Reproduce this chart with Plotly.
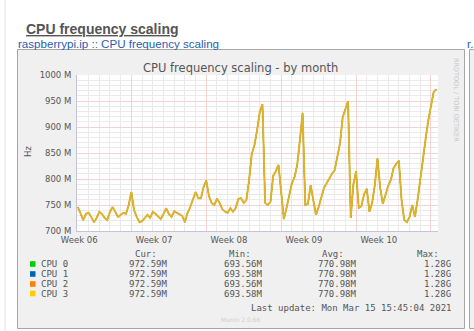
import plotly.graph_objects as go
import pandas as pd

# ---------------- data ----------------
cpu_names = ["CPU 0", "CPU 1", "CPU 2", "CPU 3"]
cpu_colors = ["#00CC00", "#0066B3", "#FF8000", "#FFCC00"]

# CPU frequency (MHz), one reading every 6 hours starting 2021-02-10 00:00
freq_mhz = [
    746, 735, 721, 733, 735, 727, 717, 725, 737, 733,
    725, 721, 737, 746, 735, 727, 731, 735, 733, 750,
    775, 740, 727, 717, 719, 725, 731, 725, 737, 733,
    727, 723, 733, 744, 733, 727, 738, 735, 733, 729,
    717, 735, 746, 762, 775, 763, 763, 785, 797, 767,
    754, 750, 762, 754, 742, 737, 735, 744, 737, 744,
    762, 763, 754, 760, 798, 848, 865, 894, 929, 944,
    754, 750, 756, 806, 815, 827, 779, 723, 744, 769,
    792, 804, 827, 875, 927, 750, 752, 788, 760, 731,
    746, 767, 783, 792, 802, 810, 817, 840, 869, 919,
    935, 950, 725, 790, 815, 744, 748, 771, 781, 737,
    754, 788, 840, 783, 752, 769, 787, 798, 821, 829,
    835, 760, 721, 717, 727, 750, 727, 760, 802, 842,
    877, 913, 942, 967, 972.6,
]
sample_start = "2021-02-10 00:00"
sample_step = "6h"
x_range = ["2021-02-09 22:00", "2021-03-15 15:45"]

week_starts = ["2021-02-15", "2021-02-22", "2021-03-01", "2021-03-08", "2021-03-15"]
week_label_pos = ["2021-02-10 03:00", "2021-02-17 03:00", "2021-02-24 03:00",
                  "2021-03-03 03:00", "2021-03-10 03:00"]
week_labels = ["Week 06", "Week 07", "Week 08", "Week 09", "Week 10"]

y_ticks = [700, 750, 800, 850, 900, 950, 1000]
y_tick_labels = ["700 M", "750 M", "800 M", "850 M", "900 M", "950 M", "1000 M"]

stat_headers = ["Cur:", "Min:", "Avg:", "Max:"]
stat_cur = ["972.59M", "972.59M", "972.59M", "972.59M"]
stat_min = ["693.56M", "693.58M", "693.56M", "693.58M"]
stat_avg = ["770.98M", "770.98M", "770.98M", "770.98M"]
stat_max = ["1.28G", "1.28G", "1.28G", "1.28G"]
last_update = "Last update: Mon Mar 15 15:45:04 2021"

# ---------------- layout helpers ----------------
W, H = 474, 331
PL, PR, PT, PB = 77, 438, 75, 231


def fx(x):
    return (x - PL) / (PR - PL)


def fy(y):
    return (PB - y) / (PB - PT)


times = pd.date_range(sample_start, periods=len(freq_mhz), freq=sample_step)

fig = go.Figure()
line_cols = ["#00CC00", "#0066B3", "#FF8000", "#DDB32E"]
line_w = [1, 1, 1, 2]
for i, name in enumerate(cpu_names):
    fig.add_trace(go.Scatter(
        x=times, y=freq_mhz, mode="lines", name=name,
        line=dict(color=line_cols[i], width=line_w[i]),
        xaxis="x2" if i == 3 else "x", yaxis="y",
        showlegend=False, hoverinfo="skip",
    ))

GRID_MINOR = "#ebebeb"
GRID_MAJOR = "#f6d2d2"
AX_COL = "#c4c4d8"
TXT = "#555555"
GFONT = "DejaVu Sans"
MFONT = "DejaVu Sans Mono"

fig.update_layout(
    width=W, height=H,
    margin=dict(l=PL, r=W - PR, t=PT, b=H - PB, pad=0),
    paper_bgcolor="white",
    plot_bgcolor="rgba(0,0,0,0)",
    showlegend=False,
    xaxis=dict(
        type="date", range=x_range,
        tickvals=week_starts, showticklabels=False, ticks="",
        showgrid=True, gridcolor=GRID_MAJOR, gridwidth=1,
        minor=dict(dtick=86400000, tick0=sample_start, showgrid=True,
                   gridcolor=GRID_MINOR, gridwidth=1, ticks=""),
        showline=True, linecolor=AX_COL, linewidth=1, zeroline=False,
        fixedrange=True,
    ),
    xaxis2=dict(
        type="date", range=x_range, overlaying="x", anchor="y", side="bottom",
        tickvals=week_label_pos, ticktext=week_labels, ticks="",
        showgrid=False, showline=False, zeroline=False,
        tickfont=dict(family=GFONT, size=8.5, color=TXT),
        ticklabelstandoff=2,
        fixedrange=True,
    ),
    yaxis=dict(
        range=[700, 1000], tickvals=y_ticks, ticktext=y_tick_labels, ticks="",
        showgrid=True, gridcolor=GRID_MAJOR, gridwidth=1,
        minor=dict(dtick=10, tick0=700, showgrid=True, gridcolor=GRID_MINOR,
                   gridwidth=1, ticks=""),
        showline=True, linecolor=AX_COL, linewidth=1, zeroline=False,
        tickfont=dict(family=GFONT, size=8.5, color=TXT),
        ticklabelstandoff=3,
        fixedrange=True,
    ),
)

shapes = [
    dict(type="line", xref="paper", yref="paper", x0=fx(5), x1=fx(5),
         y0=fy(0), y1=fy(H), line=dict(color="#e2e2e2", width=1), layer="below"),
    dict(type="rect", xref="paper", yref="paper", x0=fx(17.5), x1=fx(464.5),
         y0=fy(49.5), y1=fy(328.5), fillcolor="#f0f0f0",
         line=dict(color="#a6a6a6", width=1), layer="below"),
    dict(type="rect", xref="paper", yref="paper", x0=fx(469.5), x1=fx(500),
         y0=fy(49.5), y1=fy(328.5), fillcolor="#f0f0f0",
         line=dict(color="#a6a6a6", width=1), layer="below"),
    dict(type="rect", xref="x domain", yref="y domain", x0=0, x1=1, y0=0, y1=1,
         fillcolor="white", line=dict(width=0), layer="below"),
]

ann = []


def text(x, y, s, size, color=TXT, family=GFONT, anchor="left", **kw):
    ann.append(dict(xref="paper", yref="paper", x=fx(x), y=fy(y), text=s,
                    showarrow=False, xanchor=anchor, yanchor="middle",
                    borderpad=0, borderwidth=0,
                    font=dict(family=family, size=size, color=color,
                              **kw.pop("font_extra", {})), **kw))


# page header
text(26, 29, "CPU frequency scaling", 14, color="#555555", family="Liberation Sans",
     font_extra=dict(weight=700, lineposition="under"))
text(17.5, 43.5, "raspberrypi.ip :: CPU frequency scaling", 11.6, color="#2a5db0",
     family="Liberation Sans")
text(467, 43.5, "r.", 11.6, color="#2a5db0", family="Liberation Sans")

# graph texts
text(240.5, 68, "CPU frequency scaling - by month", 11.5, anchor="center")
text(28, 152, "Hz", 8.5, anchor="center", textangle=-90)
text(456, 100, "RRDTOOL / TOBI OETIKER", 6.5, color="#c8c8c8", anchor="center",
     textangle=90)

# legend table
row_y = [264, 274, 284, 293.5]
head_y = 254
col_head_right = [157, 251, 344, 439]
col_val_right = [168, 263, 357, 451]
for h, xr in zip(stat_headers, col_head_right):
    text(xr, head_y, h, 9, family=MFONT, anchor="right")
for i, name in enumerate(cpu_names):
    y = row_y[i]
    shapes.append(dict(type="rect", xref="paper", yref="paper",
                       x0=fx(30), x1=fx(35.5), y0=fy(y + 2.8), y1=fy(y - 2.8),
                       fillcolor=cpu_colors[i], line=dict(width=0)))
    text(41, y, name, 9, family=MFONT)
    for col, xr in zip([stat_cur, stat_min, stat_avg, stat_max], col_val_right):
        text(xr, y, col[i], 9, family=MFONT, anchor="right")
text(451, 308, last_update, 9, family=MFONT, anchor="right")
text(240, 319, "Munin 2.0.66", 6, color="#cfcfcf", anchor="center")

fig.update_layout(shapes=shapes, annotations=ann)
fig.write_html("out.html")
